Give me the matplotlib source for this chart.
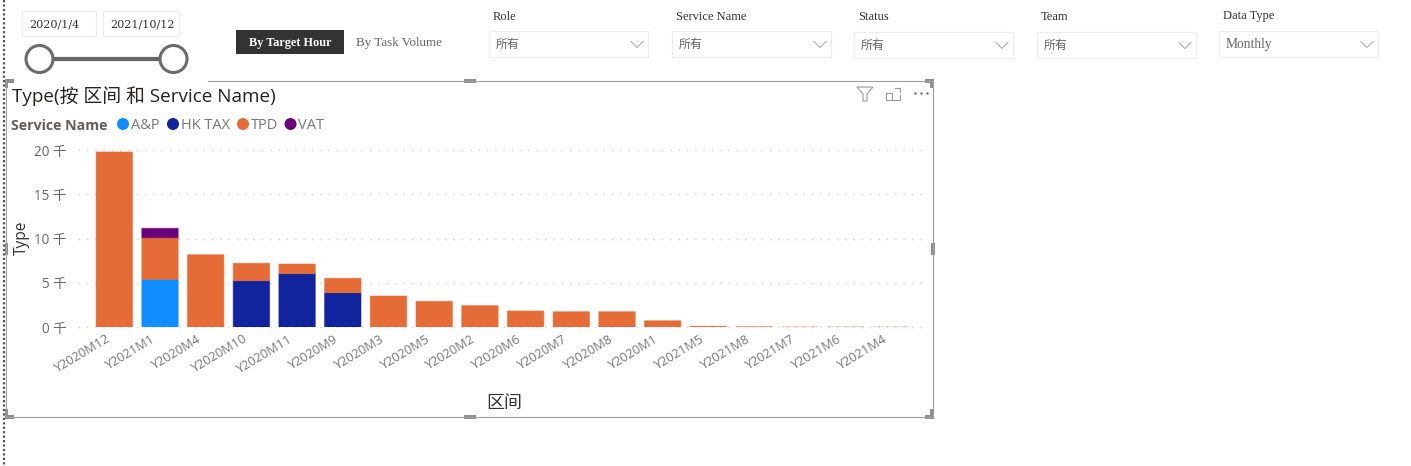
import matplotlib
matplotlib.use("Agg")
import matplotlib.pyplot as plt
from matplotlib.colors import to_rgba
from matplotlib.patches import Circle, Rectangle, Polygon
from matplotlib.transforms import ScaledTranslation
import numpy as np

# Data (thousands)
periods = ["Y2020M12", "Y2021M1", "Y2020M4", "Y2020M10", "Y2020M11", "Y2020M9",
           "Y2020M3", "Y2020M5", "Y2020M2", "Y2020M6", "Y2020M7", "Y2020M8",
           "Y2020M1", "Y2021M5", "Y2021M8", "Y2021M7", "Y2021M6", "Y2021M4"]
a_p = [0, 5.41, 0, 0, 0, 0, 0, 0, 0, 0, 0, 0, 0, 0, 0, 0, 0, 0]
hk_tax = [0, 0, 0, 5.26, 6.05, 3.9, 0, 0, 0, 0, 0, 0.08, 0, 0, 0, 0, 0, 0]
tpd = [19.78, 4.69, 8.19, 1.96, 1.09, 1.63, 3.53, 2.93, 2.44, 1.84, 1.76, 1.68,
       0.74, 0.12, 0.06, 0.03, 0.02, 0.01]
vat = [0, 1.07, 0, 0, 0, 0, 0, 0, 0, 0, 0, 0, 0, 0, 0, 0, 0, 0]
y_ticks = [0, 5, 10, 15, 20]
service_names = ["A&P", "HK TAX", "TPD", "VAT"]
service_colors = ["#118DFF", "#12239E", "#E66C37", "#6B007B"]

# Slicers
date_labels = ["2020/1/4", "2021/10/12"]
slicer_names = ["Role", "Service Name", "Status", "Team", "Data Type"]
slicer_values = ["所有", "所有", "所有", "所有", "Monthly"]

W, H = 1411, 466
CJK = ["Open Sans", "Noto Sans CJK SC", "DejaVu Sans"]
SERIF = ["Liberation Serif", "Noto Sans CJK SC"]
plt.rcParams["font.family"] = CJK


def pt(px):
    return px * 0.72


fig = plt.figure(figsize=(W / 100, H / 100), dpi=100, facecolor="white")

# Overlay in pixel coordinates for the report page around the chart
page = fig.add_axes([0, 0, 1, 1], zorder=1)
page.set_xlim(0, W)
page.set_ylim(H, 0)
page.axis("off")

# Chart
x0, x1, y_top, y_zero = 77.5, 925.5, 150, 327.3
ax = fig.add_axes([x0 / W, 1 - y_zero / H, (x1 - x0) / W, (y_zero - y_top) / H], zorder=2)
ax.patch.set_alpha(0)
x = np.arange(len(periods))
bottom = np.zeros(len(periods))
for vals, col in zip([a_p, hk_tax, tpd, vat], service_colors):
    vals = np.array(vals)
    mask = vals > 0  # empty segments would still draw their edge
    # no snapping, otherwise the tiny bars at the end collapse to nothing
    ax.bar(x[mask], vals[mask], 0.797, bottom=bottom[mask], color=col, zorder=3,
           edgecolor=to_rgba(col, 0.55), linewidth=0.7, snap=False)
    bottom += vals
ax.set_xlim(-0.805, 17.75)
ax.set_ylim(0, 20)
ax.set_yticks(y_ticks)
ax.set_yticklabels([f"{v} 千" for v in y_ticks], fontsize=pt(13.5), color="#666666")
ax.set_xticks(x)
ax.set_xticklabels(periods, rotation=31, ha="right", va="top", rotation_mode="anchor",
                   fontsize=pt(12.8), color="#777777")
ax.tick_params(axis="x", length=0, pad=4)
ax.tick_params(axis="y", length=0, pad=8)
# tick_params resets label transforms, so the shift has to come after it
shift = ScaledTranslation(-9.5 / 100, 0, fig.dpi_scale_trans)
for lab in ax.get_xticklabels():
    lab.set_transform(lab.get_transform() + shift)
ax.grid(axis="y", color="#cfcfcf", linestyle=(0, (1, 5)), linewidth=1, zorder=0)
ax.set_axisbelow(True)
for gl in ax.get_ygridlines():
    gl.set_clip_on(False)
for s in ax.spines.values():
    s.set_visible(False)

# Axis titles
page.text(22, 238, "Type", rotation=90, ha="center", va="center", fontsize=pt(15.5), color="#333333")
page.text(504, 403, "区间", ha="center", va="center", fontsize=pt(18), color="#333333")

# Chart title and legend
page.text(12, 96, "Type(按 区间 和 Service Name)", ha="left", va="center", fontsize=pt(18.9), color="#252423")
page.text(11, 125.5, "Service Name", ha="left", va="center", fontsize=pt(14.1), weight="bold", color="#605E5C")
for name, col, cx in zip(service_names, service_colors, [123, 173, 243, 290.5]):
    page.add_patch(Circle((cx, 124), 6, color=col, lw=0))
    page.text(cx + 8, 125.5, name, ha="left", va="center", fontsize=pt(14.6), color="#777777")

# Visual frame
frame = "#a0a0a0"
page.plot([6, 6], [81, 417], color=frame, lw=0.8)
page.plot([208, 933, 933], [80.5, 80.5, 417], color=frame, lw=0.8)
page.plot([6, 933], [417, 417], color=frame, lw=0.8)
for rx, ry, rw, rh in [(5, 79, 9, 4), (5, 79, 3, 9), (925, 79, 9, 4), (930, 79, 4, 9),
                       (5, 415, 9, 4), (5, 409, 3, 9), (925, 415, 9, 4), (930, 409, 4, 9),
                       (464, 79, 12, 4), (464, 415, 12, 4), (5, 243, 3, 12), (931, 243, 4, 12)]:
    page.add_patch(Rectangle((rx, ry), rw, rh, color="#8f8f8f", lw=0))
page.plot([4, 4], [0, H], color="#555555", lw=1.6, linestyle=(0, (1, 1)))

# Header icons
icon = "#9a9a9a"
page.add_patch(Polygon([(857, 87), (873, 87), (867, 94), (867, 101), (863, 101), (863, 94)],
                       closed=True, fill=False, ec=icon, lw=0.8))
page.plot([886, 886, 900, 900], [93, 100, 100, 95], color=icon, lw=0.8)
page.plot([886, 892, 892], [93, 93, 100], color=icon, lw=0.8)
page.plot([895, 900, 900], [88, 88, 92], color=icon, lw=0.8)
page.scatter([915, 921, 927], [93, 93, 93], s=3, color="#666666", lw=0)

# Date slicer
for (bx, bw), label, tx in zip([(22, 74), (103, 76)], date_labels, [29, 110]):
    page.add_patch(Rectangle((bx, 10.5), bw, 25, fc="white", ec="#ececec", lw=0.8))
    page.text(tx, 24.5, label, ha="left", va="center", fontsize=pt(11.2),
              family=["DejaVu Serif"], color="#333333")
page.plot([40, 174], [59, 59], color="#666666", lw=3, solid_capstyle="butt")
for cx in [39.5, 173.5]:
    page.add_patch(Circle((cx, 59), 13.5, fc="white", ec="#6b6b6b", lw=2.2, zorder=4))

# Toggle buttons
page.add_patch(Rectangle((236, 30), 108, 24, color="#333333", lw=0))
page.text(290, 43, "By Target Hour", ha="center", va="center", fontsize=pt(12.3),
          weight="bold", family=SERIF, color="white")
page.text(398.5, 43, "By Task Volume", ha="center", va="center", fontsize=pt(13),
          family=SERIF, color="#666666")

# Dropdown slicers
for name, value, lx, ty, by in zip(slicer_names, slicer_values,
                                   [489, 672, 854, 1037, 1219],
                                   [16.5, 16.5, 17.5, 17.5, 16.5], [30.5, 30.5, 31.5, 31.5, 30.5]):
    page.text(lx + 4, ty, name, ha="left", va="center", fontsize=pt(12.5), family=SERIF, color="#333333")
    page.add_patch(Rectangle((lx, by), 159, 26, fc="white", ec="#ececec", lw=0.8))
    is_text = value == "Monthly"
    page.text(lx + 7, by + 14, value, ha="left", va="center", fontsize=pt(13.5 if is_text else 12),
              family=SERIF if is_text else ["Noto Sans CJK SC"], color="#666666")
    cx = lx + 148
    page.plot([cx - 6, cx, cx + 6], [by + 11, by + 17, by + 11], color="#a5a5a5", lw=0.7)

fig.savefig("out.png", dpi=100)
